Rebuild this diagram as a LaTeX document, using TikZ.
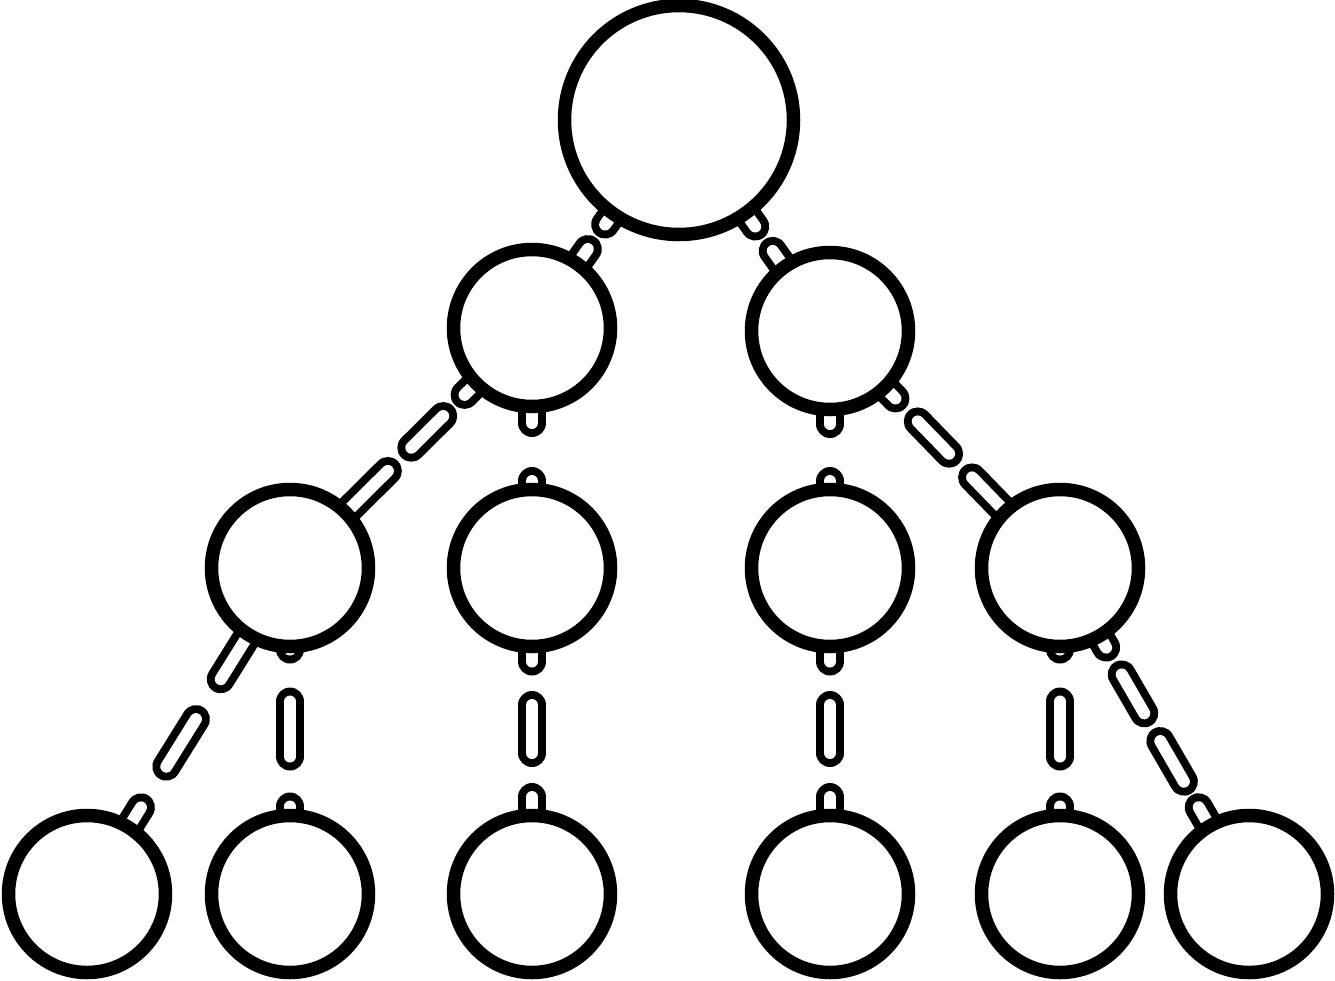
\documentclass[tikz,border=0pt]{standalone}
\usetikzlibrary{backgrounds}
\begin{document}
\begin{tikzpicture}[x=1pt,y=-1pt,
  nd/.style={circle, draw=black, fill=white, line width=13.5pt, inner sep=0pt, minimum size=157pt},
  rootnd/.style={nd, minimum size=229pt},
  link/.style={draw=black, line width=8pt, double=white, double distance=12pt, line cap=round}]
\useasboundingbox (0,0) rectangle (1335,980);
% level 1
\node[rootnd] (R) at (679,120) {};
% level 2
\node[nd] (A) at (532,328) {};
\node[nd] (B) at (830,331) {};
% level 3
\node[nd] (C) at (290,568) {};
\node[nd] (E) at (532,568) {};
\node[nd] (F) at (830,568) {};
\node[nd] (D) at (1060,568) {};
% level 4
\node[nd] (G) at (87,894) {};
\node[nd] (H) at (290,894) {};
\node[nd] (I) at (532,894) {};
\node[nd] (J) at (830,894) {};
\node[nd] (K) at (1060,894) {};
\node[nd] (L) at (1249,894) {};
\begin{scope}[on background layer]
  \draw[link, dash pattern=on 128pt off 30pt on 1000pt off 1pt] (R.center) -- (A.center);
  \draw[link, dash pattern=on 131pt off 30pt on 1000pt off 1pt] (R.center) -- (B.center);
  \draw[link, dash pattern=on 95pt off 30pt on 45pt off 33pt on 1000pt off 1pt] (A.center) -- (C.center);
  \draw[link, dash pattern=on 94pt off 32pt on 45pt off 33pt on 1000pt off 1pt] (B.center) -- (D.center);
  \draw[link, dash pattern=on 95pt off 58pt on 1000pt off 1pt] (A.center) -- (E.center);
  \draw[link, dash pattern=on 93pt off 57pt on 1000pt off 1pt] (B.center) -- (F.center);
  \draw[link, dash pattern=on 131pt off 47pt on 56pt off 48pt on 1000pt off 1pt] (C.center) -- (G.center);
  \draw[link, dash pattern=on 81.5pt off 52pt on 55pt off 50pt on 1000pt off 1pt] (C.center) -- (H.center);
  \draw[link, dash pattern=on 93.5pt off 43.5pt on 48pt off 44pt on 1000pt off 1pt] (E.center) -- (I.center);
  \draw[link, dash pattern=on 93.5pt off 43.5pt on 48pt off 44pt on 1000pt off 1pt] (F.center) -- (J.center);
  \draw[link, dash pattern=on 81.5pt off 52pt on 55pt off 50pt on 1000pt off 1pt] (D.center) -- (K.center);
  \draw[link, dash pattern=on 92pt off 31pt on 45pt off 32pt on 47pt off 29.5pt on 1000pt off 1pt] (D.center) -- (L.center);
\end{scope}
\end{tikzpicture}
\end{document}
